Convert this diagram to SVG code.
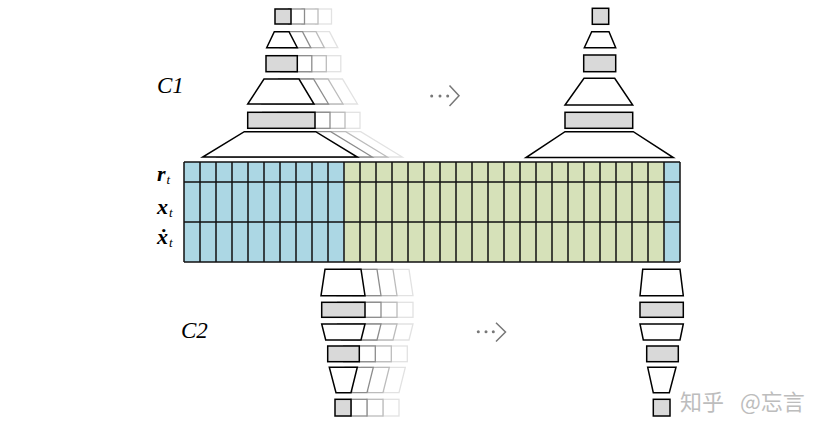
<svg xmlns="http://www.w3.org/2000/svg" width="831" height="436" viewBox="0 0 831 436">
<style>
.m{fill:#fff;stroke:#000;stroke-width:1.5;stroke-linejoin:miter}
.b{fill:#d9d9d9;stroke:#000;stroke-width:1.5}
.g1{fill:#fff;stroke:#8c8c8c;stroke-width:1.3}
.g2{fill:#fff;stroke:#bcbcbc;stroke-width:1.3}
.g3{fill:#fff;stroke:#e2e2e2;stroke-width:1.3}
.blue{fill:#acd7e4}
.green{fill:#d6e1b9}
.gl{stroke:#111;stroke-width:1.5;fill:none}
.lab{font-family:"Liberation Serif","DejaVu Serif",serif;font-style:italic;fill:#000}
.row{font-weight:bold;font-size:22px}
.sub{font-size:13px;font-weight:normal}
.dot{fill:#777}
.chev{fill:none;stroke:#777;stroke-width:1.5}
.wm{font-family:"Noto Sans CJK SC",sans-serif;font-size:22px;fill:#bdbdbd}
</style>
<rect width="831" height="436" fill="#fff"/>

<g id="grid">
<rect class="blue" x="184" y="162" width="160" height="100"/>
<rect class="green" x="344" y="162" width="320" height="100"/>
<rect class="blue" x="664" y="162" width="16" height="100"/>
<path class="gl" d="M184,162H680M184,182H680M184,222H680M184,262H680
M184,162V262M200,162V262M216,162V262M232,162V262M248,162V262M264,162V262M280,162V262M296,162V262M312,162V262M328,162V262M344,162V262
M360,162V262M376,162V262M392,162V262M408,162V262M424,162V262M440,162V262M456,162V262M472,162V262M488,162V262M504,162V262
M520,162V262M536,162V262M552,162V262M568,162V262M584,162V262M600,162V262M616,162V262M632,162V262M648,162V262M664,162V262M680,162V262"/>
</g>

<g id="row-labels">
<text class="lab row" x="157" y="181">r<tspan class="sub" dx="1" dy="3">t</tspan></text>
<text class="lab row" x="157" y="214">x<tspan class="sub" dx="1" dy="3">t</tspan></text>
<text class="lab row" x="157" y="244">ẋ<tspan class="sub" dx="1" dy="3">t</tspan></text>
</g>

<g id="label-c1"><text class="lab" x="157" y="93" font-size="23">C1</text></g>
<g id="label-c2"><text class="lab" x="181" y="338" font-size="23">C2</text></g>

<!-- C1 left with sliding ghosts -->
<g id="c1-left">
<rect class="g3" x="315.5" y="9" width="16" height="15"/>
<rect class="g2" x="302" y="9" width="16" height="15"/>
<rect class="g1" x="288.5" y="9" width="16" height="15"/>
<rect class="b" x="275" y="9" width="16" height="15"/>
<polygon class="g3" points="314.8,31.7 329.5,31.7 337.8,47.7 307.2,47.7"/>
<polygon class="g2" points="301.3,31.7 316,31.7 324.3,47.7 293.7,47.7"/>
<polygon class="g1" points="287.8,31.7 302.5,31.7 310.8,47.7 280.2,47.7"/>
<polygon class="m" points="274.3,31.7 289,31.7 297.3,47.7 266.7,47.7"/>
<rect class="g3" x="309.5" y="55.7" width="31.3" height="16"/>
<rect class="g2" x="295" y="55.7" width="31.3" height="16"/>
<rect class="g1" x="280.5" y="55.7" width="31.3" height="16"/>
<rect class="b" x="266" y="55.7" width="31.3" height="16"/>
<polygon class="g3" points="307.5,79 342.5,79 357.5,104 291.2,104"/>
<polygon class="g2" points="293,79 328,79 343,104 276.7,104"/>
<polygon class="g1" points="278.5,79 313.5,79 328.5,104 262.2,104"/>
<polygon class="m" points="264,79 299,79 314,104 247.7,104"/>
<rect class="g3" x="292.7" y="112.3" width="67.3" height="16"/>
<rect class="g2" x="277.7" y="112.3" width="67.3" height="16"/>
<rect class="g1" x="262.7" y="112.3" width="67.3" height="16"/>
<rect class="b" x="247.7" y="112.3" width="67.3" height="16"/>
<polygon class="g3" points="289.3,131.7 360.7,131.7 402.3,157 247.7,157"/>
<polygon class="g2" points="274.3,131.7 345.7,131.7 387.3,157 232.7,157"/>
<polygon class="g1" points="259.3,131.7 330.7,131.7 372.3,157 217.7,157"/>
<polygon class="m" points="244.3,131.7 315.7,131.7 357.3,157 202.7,157"/>
</g>

<g id="c1-right">
<rect class="b" x="592.3" y="8.3" width="16.4" height="16"/>
<polygon class="m" points="591.7,31.7 609,31.7 615.7,47.7 584.3,47.7"/>
<rect class="b" x="583.7" y="55" width="32" height="16.7"/>
<polygon class="m" points="584,78.3 614.7,78.3 632.7,105 565,105"/>
<rect class="b" x="565" y="112.3" width="67.7" height="16"/>
<polygon class="m" points="565,131.7 633.3,131.7 673.3,157.5 526,157.5"/>
</g>

<g id="c2-left">
<polygon class="g3" points="373,269.3 409,269.3 413,295.7 369,295.7"/>
<polygon class="g2" points="357,269.3 393,269.3 397,295.7 353,295.7"/>
<polygon class="g1" points="341,269.3 377,269.3 381,295.7 337,295.7"/>
<polygon class="m" points="325,269.3 361,269.3 365,295.7 321,295.7"/>
<rect class="g3" x="369.7" y="302.3" width="43.3" height="15"/>
<rect class="g2" x="353.7" y="302.3" width="43.3" height="15"/>
<rect class="g1" x="337.7" y="302.3" width="43.3" height="15"/>
<rect class="b" x="321.7" y="302.3" width="43.3" height="15"/>
<polygon class="g3" points="369.7,324 413,324 409,340 373.7,340"/>
<polygon class="g2" points="353.7,324 397,324 393,340 357.7,340"/>
<polygon class="g1" points="337.7,324 381,324 377,340 341.7,340"/>
<polygon class="m" points="321.7,324 365,324 361,340 325.7,340"/>
<rect class="g3" x="375.7" y="346" width="31.6" height="15.7"/>
<rect class="g2" x="359.7" y="346" width="31.6" height="15.7"/>
<rect class="g1" x="343.7" y="346" width="31.6" height="15.7"/>
<rect class="b" x="327.7" y="346" width="31.6" height="15.7"/>
<polygon class="g3" points="377.3,367.3 405.3,367.3 399,392.7 384,392.7"/>
<polygon class="g2" points="361.3,367.3 389.3,367.3 383,392.7 368,392.7"/>
<polygon class="g1" points="345.3,367.3 373.3,367.3 367,392.7 352,392.7"/>
<polygon class="m" points="329.3,367.3 357.3,367.3 351,392.7 336,392.7"/>
<rect class="g3" x="383" y="399.3" width="16" height="16.7"/>
<rect class="g2" x="367" y="399.3" width="16" height="16.7"/>
<rect class="g1" x="351" y="399.3" width="16" height="16.7"/>
<rect class="b" x="335" y="399.3" width="16" height="16.7"/>
</g>

<g id="c2-right">
<polygon class="m" points="642.7,269.3 680,269.3 683.3,295.7 640,295.7"/>
<rect class="b" x="640" y="302.3" width="43.3" height="15"/>
<polygon class="m" points="640,324 683.3,324 680,340 643.3,340"/>
<rect class="b" x="646.7" y="346" width="31.6" height="15.7"/>
<polygon class="m" points="647.7,367.3 676,367.3 669.3,392.7 653.3,392.7"/>
<rect class="b" x="653.3" y="399.3" width="16.7" height="16.7"/>
</g>

<g id="connectors">
<g id="arrow-c1">
<circle class="dot" cx="431.7" cy="96" r="1.5"/>
<circle class="dot" cx="440" cy="96" r="1.5"/>
<circle class="dot" cx="447.7" cy="96" r="1.5"/>
<polyline class="chev" points="449.5,85.5 459,95.8 449.5,106"/>
</g>
<g id="arrow-c2">
<circle class="dot" cx="478.3" cy="331.7" r="1.5"/>
<circle class="dot" cx="486" cy="331.7" r="1.5"/>
<circle class="dot" cx="493.3" cy="331.7" r="1.5"/>
<polyline class="chev" points="496,322.7 505.5,332 496,341.5"/>
</g>
</g>

<g id="watermark">
<text class="wm" x="680" y="410">知乎</text>
<text class="wm" x="740" y="410">@忘言</text>
</g>
</svg>
